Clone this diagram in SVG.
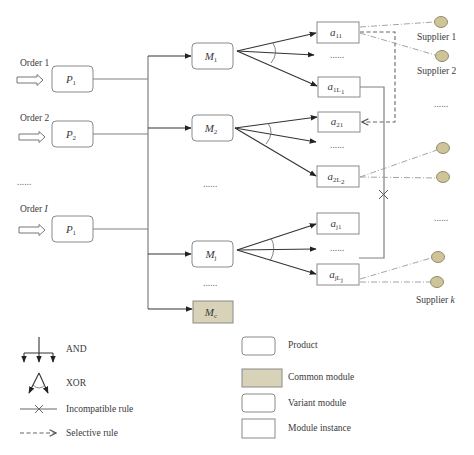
<svg xmlns="http://www.w3.org/2000/svg" width="474" height="455" viewBox="0 0 474 455">
<style>
text{font-family:"Liberation Serif","Times New Roman",serif;fill:#3a3a3a;font-size:9.5px}
.lbl{font-size:11px;font-style:italic;text-anchor:middle}
.sub{font-size:7px;font-style:normal}
.box{fill:#fff;stroke:#8a8a8a;stroke-width:1}
.common{fill:#d8d2b9;stroke:#8a8a8a;stroke-width:1}
.sup{fill:#cdc49a;stroke:#968c68;stroke-width:1}
.trunk{fill:none;stroke:#808080;stroke-width:1.2}
.arr{fill:none;stroke:#333;stroke-width:1.1;marker-end:url(#ah)}
.dd{fill:none;stroke:#9a9a9a;stroke-width:0.9;stroke-dasharray:6 2 1 2}
.dash{fill:none;stroke:#666;stroke-width:1.1;stroke-dasharray:4 2.5}
.arc{fill:none;stroke:#666;stroke-width:0.8}
.dots{font-size:9.5px;fill:#666}
</style>
<defs>
<marker id="ah" viewBox="0 0 10 10" refX="9" refY="5" markerWidth="7" markerHeight="7" orient="auto" markerUnits="userSpaceOnUse">
<path d="M0,1 L10,5 L0,9 z" fill="#222"/>
</marker>
<marker id="oh" viewBox="0 0 10 10" refX="9" refY="5" markerWidth="8" markerHeight="8" orient="auto" markerUnits="userSpaceOnUse">
<path d="M1,1 L9,5 L1,9" fill="none" stroke="#555" stroke-width="1.5"/>
</marker>
<path id="hollow" d="M0,-3 L20,-3 L20,-5.5 L26,0 L20,5.5 L20,3 L0,3 z" fill="#fff" stroke="#777" stroke-width="1"/>
</defs>

<g id="orders">
<text x="20" y="66">Order 1</text>
<use href="#hollow" x="17" y="80"/>
<text x="20" y="121">Order 2</text>
<use href="#hollow" x="19" y="137"/>
<text class="dots" x="17" y="185">......</text>
<text x="20" y="212">Order <tspan font-style="italic">I</tspan></text>
<use href="#hollow" x="19" y="230"/>
</g>

<g id="P1"><rect class="box" x="52" y="66" width="41" height="26" rx="4"/><text class="lbl" x="71" y="83">P<tspan class="sub" dy="2">1</tspan></text></g>
<g id="P2"><rect class="box" x="52" y="121" width="41" height="26" rx="4"/><text class="lbl" x="71" y="138">P<tspan class="sub" dy="2">2</tspan></text></g>
<g id="PI"><rect class="box" x="52" y="216" width="41" height="26" rx="4"/><text class="lbl" x="71" y="233">P<tspan class="sub" dy="2">1</tspan></text></g>

<g id="M1"><rect class="box" x="192" y="43" width="41" height="26" rx="4"/><text class="lbl" x="211" y="60">M<tspan class="sub" dy="2">1</tspan></text></g>
<g id="M2"><rect class="box" x="192" y="115" width="41" height="26" rx="4"/><text class="lbl" x="211" y="132">M<tspan class="sub" dy="2">2</tspan></text></g>
<text class="dots" x="203" y="187">......</text>
<g id="Mj"><rect class="box" x="192" y="241" width="41" height="26" rx="4"/><text class="lbl" x="211" y="258">M<tspan class="sub" dy="2" font-style="italic">j</tspan></text></g>
<text class="dots" x="203" y="286">......</text>
<g id="Mc"><rect class="common" x="193" y="301" width="40" height="22"/><text class="lbl" x="211" y="316">M<tspan class="sub" dy="2" font-style="italic">c</tspan></text></g>

<g id="a11"><rect class="box" x="317" y="22" width="42" height="21"/><text class="lbl" x="336" y="36">a<tspan class="sub" dy="2">11</tspan></text></g>
<text class="dots" x="330" y="58">......</text>
<g id="a1L1"><rect class="box" x="318" y="77" width="42" height="20"/><text class="lbl" x="336" y="90">a<tspan class="sub" dy="2">1L</tspan><tspan class="sub" font-size="5px" dy="1.5">1</tspan></text></g>
<g id="a21"><rect class="box" x="318" y="112" width="42" height="20"/><text class="lbl" x="337" y="125">a<tspan class="sub" dy="2">21</tspan></text></g>
<text class="dots" x="330" y="148">......</text>
<g id="a2L2"><rect class="box" x="317" y="166" width="42" height="21"/><text class="lbl" x="336" y="180">a<tspan class="sub" dy="2">2L</tspan><tspan class="sub" font-size="5px" dy="1.5">2</tspan></text></g>
<g id="aj1"><rect class="box" x="317" y="213" width="42" height="21"/><text class="lbl" x="336" y="227">a<tspan class="sub" dy="2" font-style="italic">j</tspan><tspan class="sub" dy="0">1</tspan></text></g>
<text class="dots" x="330" y="251">......</text>
<g id="ajLj"><rect class="box" x="317" y="264" width="42" height="21"/><text class="lbl" x="336" y="278">a<tspan class="sub" dy="2" font-style="italic">j</tspan><tspan class="sub">L</tspan><tspan class="sub" font-size="5px" dy="1.5" font-style="italic">j</tspan></text></g>

<g id="suppliers">
<ellipse class="sup" cx="441" cy="22" rx="6.5" ry="5.5"/>
<text x="417" y="40">Supplier 1</text>
<ellipse class="sup" cx="442" cy="56" rx="6.5" ry="5.5"/>
<text x="417" y="74">Supplier 2</text>
<text class="dots" x="434" y="107">......</text>
<ellipse class="sup" cx="443" cy="148" rx="6.5" ry="5.5"/>
<ellipse class="sup" cx="443" cy="177" rx="6.5" ry="5.5"/>
<text class="dots" x="434" y="221">......</text>
<ellipse class="sup" cx="438" cy="257" rx="6.5" ry="5.5"/>
<ellipse class="sup" cx="437" cy="282" rx="6.5" ry="5.5"/>
<text x="416" y="303">Supplier <tspan font-style="italic">k</tspan></text>
</g>

<g id="connectors">
<path class="trunk" d="M93,79 H148 M93,134 H148 M93,229 H148 M148,56 V309"/>
<path class="arr" d="M148,56 H191"/>
<path class="arr" d="M148,128 H191"/>
<path class="arr" d="M148,254 H191"/>
<path class="arr" d="M148,309 H192"/>
<path class="arr" d="M237,51 L316,33"/>
<path class="arr" d="M237,51 L314,55"/>
<path class="arr" d="M237,51 L317,86"/>
<path class="arc" d="M273,43 Q279,53 271,63"/>
<path class="arr" d="M235,128 L317,117"/>
<path class="arr" d="M235,128 L316,142"/>
<path class="arr" d="M235,128 L316,176"/>
<path class="arc" d="M268,123 Q275,133 266,144"/>
<path class="arr" d="M237,250 L316,224"/>
<path class="arr" d="M237,250 L316,249"/>
<path class="arr" d="M237,250 L316,274"/>
<path class="arc" d="M271,238 Q277,249 270,261"/>
<path class="trunk" d="M360,87 H384 V258 H359"/>
<path d="M379,190 L388,199 M388,190 L379,199" stroke="#555" stroke-width="1" fill="none"/>
<path class="dash" d="M360,32 H395 V122 H362" marker-end="url(#oh)"/>
<path class="dd" d="M360,27 L434,22"/>
<path class="dd" d="M360,33 L435,55"/>
<path class="dd" d="M360,177 L437,150"/>
<path class="dd" d="M360,177 L436,178"/>
<path class="dd" d="M360,279 L431,258"/>
<path class="dd" d="M360,282 L430,282"/>
</g>

<g id="legend">
<path d="M39,337 V353 M24,353 H53" stroke="#333" stroke-width="1.1" fill="none"/>
<path class="arr" d="M24,353 V362"/>
<path class="arr" d="M39,353 V362"/>
<path class="arr" d="M53,353 V362"/>
<text x="66" y="352">AND</text>
<path class="arr" d="M39,373 L29,393"/>
<path class="arr" d="M39,373 L48,393"/>
<path class="arc" d="M33,385 Q39,391 45,385"/>
<text x="66" y="386">XOR</text>
<path d="M20,409 H57" stroke="#666" stroke-width="1" fill="none"/>
<path d="M35,405 L43,413 M43,405 L35,413" stroke="#666" stroke-width="1" fill="none"/>
<text x="66" y="412">Incompatible rule</text>
<path class="dash" d="M20,433 H56" marker-end="url(#oh)"/>
<text x="66" y="436">Selective rule</text>
<rect class="box" x="242" y="337" width="33" height="18" rx="3"/>
<text x="288" y="348">Product</text>
<rect class="common" x="242" y="369" width="40" height="18"/>
<text x="288" y="380">Common module</text>
<rect class="box" x="242" y="394" width="33" height="18" rx="3"/>
<text x="288" y="406">Variant module</text>
<rect class="box" x="242" y="419" width="33" height="19"/>
<text x="288" y="431">Module instance</text>
</g>
</svg>
